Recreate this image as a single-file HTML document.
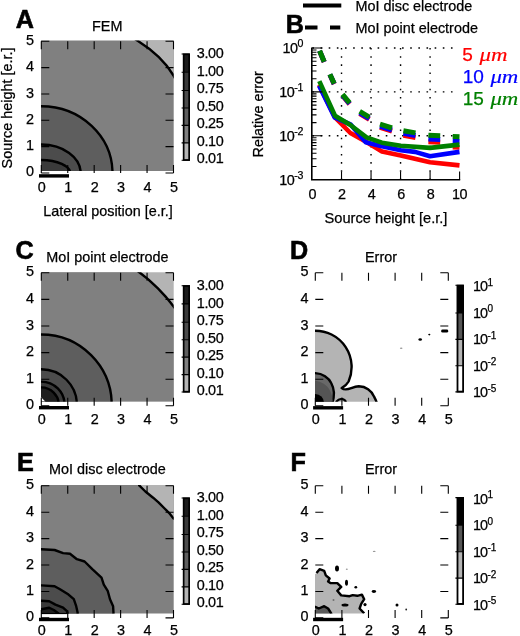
<!DOCTYPE html>
<html><head><meta charset="utf-8"><title>Figure</title>
<style>
html,body{margin:0;padding:0;background:#fff;overflow:hidden}
svg{display:block}
text{font-family:"Liberation Sans",sans-serif;font-size:14.4px;fill:#000;stroke:#000;stroke-width:0.25px}
.pl{font-weight:bold;font-size:25.2px;stroke:#000;stroke-width:0.6px}
</style></head><body>
<svg width="520" height="636" viewBox="0 0 520 636">
<rect width="520" height="636" fill="#fff"/>
<defs>
<clipPath id="ca"><rect x="41" y="40.6" width="132.7" height="130.3"/></clipPath>
<clipPath id="cc"><rect x="41" y="272.2" width="132.7" height="129.3"/></clipPath>
<clipPath id="ce"><rect x="41" y="485" width="132.7" height="128.5"/></clipPath>
<clipPath id="cd"><rect x="315" y="272.2" width="133" height="129.5"/></clipPath>
<clipPath id="cf"><rect x="315" y="485" width="133" height="128.4"/></clipPath>
</defs>

<g id="panelA">
<g clip-path="url(#ca)">
<rect x="41" y="40" width="133" height="132" fill="#808080"/>
<path d="M130.5 36.2L138 41Q162.8 56.6 173.7 76L177.2 82V36.2Z" fill="#b4b4b4" stroke="#000" stroke-width="2.4"/>
<ellipse cx="41.2" cy="173.3" rx="71.3" ry="67" fill="#5e5e5e" stroke="#000" stroke-width="2.4"/>
<ellipse cx="41.2" cy="173.3" rx="39.5" ry="28.8" fill="#4c4c4c" stroke="#000" stroke-width="2.4"/>
<ellipse cx="41.2" cy="173.3" rx="29" ry="13.3" fill="#3a3a3a" stroke="#000" stroke-width="2.4"/>
</g>
<path d="M41.30 41.30v8M41.30 173.00v-8M41.30 173.00h8M173.50 173.00h-8M67.74 41.30v8M67.74 173.00v-8M41.30 146.66h8M173.50 146.66h-8M94.18 41.30v8M94.18 173.00v-8M41.30 120.32h8M173.50 120.32h-8M120.62 41.30v8M120.62 173.00v-8M41.30 93.98h8M173.50 93.98h-8M147.06 41.30v8M147.06 173.00v-8M41.30 67.64h8M173.50 67.64h-8M173.50 41.30v8M173.50 173.00v-8M41.30 41.30h8M173.50 41.30h-8" stroke="#000" stroke-width="1.1" fill="none"/>
<rect x="39.00" y="174.20" width="30" height="3.4" fill="#000"/>
<text x="41.80" y="192.40" text-anchor="middle">0</text><text x="34.10" y="175.80" text-anchor="end">0</text><text x="68.24" y="192.40" text-anchor="middle">1</text><text x="34.10" y="150.26" text-anchor="end">1</text><text x="94.68" y="192.40" text-anchor="middle">2</text><text x="34.10" y="123.92" text-anchor="end">2</text><text x="121.12" y="192.40" text-anchor="middle">3</text><text x="34.10" y="97.58" text-anchor="end">3</text><text x="147.56" y="192.40" text-anchor="middle">4</text><text x="34.10" y="71.24" text-anchor="end">4</text><text x="174.00" y="192.40" text-anchor="middle">5</text><text x="34.10" y="44.90" text-anchor="end">5</text>
<text class="pl" x="15.8" y="27.5">A</text>
<text x="107.2" y="30.5" text-anchor="middle">FEM</text>
<text x="108" y="215.8" text-anchor="middle">Lateral position [e.r.]</text>
<text transform="translate(11.7,108) rotate(-90)" text-anchor="middle">Source height [e.r.]</text>
<rect x="183.1" y="54.00" width="6.6" height="18.30" fill="#1c1c1c"/><rect x="183.1" y="72.20" width="6.6" height="18.40" fill="#3a3a3a"/><rect x="183.1" y="90.50" width="6.6" height="17.60" fill="#4c4c4c"/><rect x="183.1" y="108.00" width="6.6" height="17.50" fill="#5e5e5e"/><rect x="183.1" y="125.40" width="6.6" height="17.60" fill="#808080"/><rect x="183.1" y="142.90" width="6.6" height="17.50" fill="#b4b4b4"/><rect x="183.65" y="54.3" width="5.5" height="105.70" fill="none" stroke="#000" stroke-width="1.7"/><text x="196.7" y="58.40" style="letter-spacing:-0.3px">3.00</text><text x="196.7" y="75.90" style="letter-spacing:-0.3px">1.00</text><text x="196.7" y="93.40" style="letter-spacing:-0.3px">0.75</text><text x="196.7" y="110.90" style="letter-spacing:-0.3px">0.50</text><text x="196.7" y="128.40" style="letter-spacing:-0.3px">0.25</text><text x="196.7" y="145.90" style="letter-spacing:-0.3px">0.10</text><text x="196.7" y="163.40" style="letter-spacing:-0.3px">0.01</text><path d="M181.6 54.00h8.1M181.6 72.20h8.1M181.6 90.50h8.1M181.6 108.00h8.1M181.6 125.40h8.1M181.6 142.90h8.1M181.6 160.30h8.1" stroke="#000" stroke-width="1.1"/>
</g>
<g id="panelC">
<g clip-path="url(#cc)">
<rect x="41" y="272" width="133" height="132" fill="#b4b4b4"/>
<circle cx="41.25" cy="405" r="165.0" fill="#808080" stroke="#000" stroke-width="2.4"/>
<circle cx="41.25" cy="405" r="70.5" fill="#5e5e5e" stroke="#000" stroke-width="2.4"/>
<circle cx="41.25" cy="405" r="35.7" fill="#4c4c4c" stroke="#000" stroke-width="2.4"/>
<circle cx="41.25" cy="405" r="23.4" fill="#3a3a3a" stroke="#000" stroke-width="2.4"/>
<circle cx="41.25" cy="405" r="17.6" fill="#1e1e1e" stroke="#000" stroke-width="2.4"/>
<path d="M41 397.3L45.6 401.8H41Z" fill="#fff"/>
</g>
<path d="M41.30 272.80v8M41.30 405.80v-8M41.30 405.80h8M173.50 405.80h-8M67.74 272.80v8M67.74 405.80v-8M41.30 379.20h8M173.50 379.20h-8M94.18 272.80v8M94.18 405.80v-8M41.30 352.60h8M173.50 352.60h-8M120.62 272.80v8M120.62 405.80v-8M41.30 326.00h8M173.50 326.00h-8M147.06 272.80v8M147.06 405.80v-8M41.30 299.40h8M173.50 299.40h-8M173.50 272.80v8M173.50 405.80v-8M41.30 272.80h8M173.50 272.80h-8" stroke="#000" stroke-width="1.1" fill="none"/>
<rect x="39.00" y="406.00" width="30" height="3.4" fill="#000"/>
<text x="41.80" y="423.80" text-anchor="middle">0</text><text x="34.10" y="408.60" text-anchor="end">0</text><text x="68.24" y="423.80" text-anchor="middle">1</text><text x="34.10" y="382.80" text-anchor="end">1</text><text x="94.68" y="423.80" text-anchor="middle">2</text><text x="34.10" y="356.20" text-anchor="end">2</text><text x="121.12" y="423.80" text-anchor="middle">3</text><text x="34.10" y="329.60" text-anchor="end">3</text><text x="147.56" y="423.80" text-anchor="middle">4</text><text x="34.10" y="303.00" text-anchor="end">4</text><text x="174.00" y="423.80" text-anchor="middle">5</text><text x="34.10" y="276.40" text-anchor="end">5</text>
<text class="pl" x="15.5" y="259.4">C</text>
<text x="107.4" y="261.5" text-anchor="middle">MoI point electrode</text>
<rect x="183.1" y="285.70" width="6.6" height="18.30" fill="#1c1c1c"/><rect x="183.1" y="303.90" width="6.6" height="18.40" fill="#3a3a3a"/><rect x="183.1" y="322.20" width="6.6" height="17.60" fill="#4c4c4c"/><rect x="183.1" y="339.70" width="6.6" height="17.50" fill="#5e5e5e"/><rect x="183.1" y="357.10" width="6.6" height="17.60" fill="#808080"/><rect x="183.1" y="374.60" width="6.6" height="17.50" fill="#b4b4b4"/><rect x="183.65" y="286.0" width="5.5" height="105.70" fill="none" stroke="#000" stroke-width="1.7"/><text x="196.7" y="290.10" style="letter-spacing:-0.3px">3.00</text><text x="196.7" y="307.60" style="letter-spacing:-0.3px">1.00</text><text x="196.7" y="325.10" style="letter-spacing:-0.3px">0.75</text><text x="196.7" y="342.60" style="letter-spacing:-0.3px">0.50</text><text x="196.7" y="360.10" style="letter-spacing:-0.3px">0.25</text><text x="196.7" y="377.60" style="letter-spacing:-0.3px">0.10</text><text x="196.7" y="395.10" style="letter-spacing:-0.3px">0.01</text><path d="M181.6 285.70h8.1M181.6 303.90h8.1M181.6 322.20h8.1M181.6 339.70h8.1M181.6 357.10h8.1M181.6 374.60h8.1M181.6 392.00h8.1" stroke="#000" stroke-width="1.1"/>
</g>
<g id="panelE">
<g clip-path="url(#ce)">
<rect x="41" y="485" width="133" height="132" fill="#808080"/>
<path d="M139.2 485.4L145.4 491.5L153.1 497.7L158.5 502.3L164.6 508.5L169.2 513.1L173.5 518.5L176 518.5V480H139.2Z" fill="#b4b4b4" stroke="#000" stroke-width="2.4" stroke-linejoin="round"/>
<path d="M38 549.2L41.5 549.2L54.6 550L63.1 553.1L70 553.8L76.9 559.2L84.6 561.5L92.3 569.2L101.5 577.7L103.8 584.6L107.7 590.8L110 599.2L113.1 606.2L113.5 613.1V622H38Z" fill="#5e5e5e" stroke="#000" stroke-width="2.4" stroke-linejoin="round"/>
<path d="M38 585.4L41.5 585.4L54.6 586.2L60 589.2L68.5 594.6L73.8 599.2L76.2 606.2L77.7 613.1V622H38Z" fill="#4c4c4c" stroke="#000" stroke-width="2.4" stroke-linejoin="round"/>
<path d="M38 600.8L41.5 600.8L49.2 601.2L55.4 604.6L63.1 607.7L66.9 611.1L67.7 613.5V622H38Z" fill="#3a3a3a" stroke="#000" stroke-width="2.4" stroke-linejoin="round"/>
<path d="M38 609.2L41.5 609.2L49.2 607.7L53.8 610L58.5 613.5V622H38Z" fill="#1e1e1e" stroke="#000" stroke-width="2.4" stroke-linejoin="round"/>
</g>
<path d="M41.3 613.5H67.7" stroke="#000" stroke-width="1.2"/>
<path d="M41.30 485.80v8M41.30 617.90v-8M41.30 617.90h8M173.50 617.90h-8M67.74 485.80v8M67.74 617.90v-8M41.30 591.48h8M173.50 591.48h-8M94.18 485.80v8M94.18 617.90v-8M41.30 565.06h8M173.50 565.06h-8M120.62 485.80v8M120.62 617.90v-8M41.30 538.64h8M173.50 538.64h-8M147.06 485.80v8M147.06 617.90v-8M41.30 512.22h8M173.50 512.22h-8M173.50 485.80v8M173.50 617.90v-8M41.30 485.80h8M173.50 485.80h-8" stroke="#000" stroke-width="1.1" fill="none"/>
<rect x="39.00" y="617.80" width="30" height="3.4" fill="#000"/>
<text x="41.80" y="635.30" text-anchor="middle">0</text><text x="34.10" y="620.70" text-anchor="end">0</text><text x="68.24" y="635.30" text-anchor="middle">1</text><text x="34.10" y="595.08" text-anchor="end">1</text><text x="94.68" y="635.30" text-anchor="middle">2</text><text x="34.10" y="568.66" text-anchor="end">2</text><text x="121.12" y="635.30" text-anchor="middle">3</text><text x="34.10" y="542.24" text-anchor="end">3</text><text x="147.56" y="635.30" text-anchor="middle">4</text><text x="34.10" y="515.82" text-anchor="end">4</text><text x="174.00" y="635.30" text-anchor="middle">5</text><text x="34.10" y="489.40" text-anchor="end">5</text>
<text class="pl" x="17" y="471.2">E</text>
<text x="107.4" y="474.2" text-anchor="middle">MoI disc electrode</text>
<rect x="183.1" y="498.00" width="6.6" height="18.30" fill="#1c1c1c"/><rect x="183.1" y="516.20" width="6.6" height="18.40" fill="#3a3a3a"/><rect x="183.1" y="534.50" width="6.6" height="17.60" fill="#4c4c4c"/><rect x="183.1" y="552.00" width="6.6" height="17.50" fill="#5e5e5e"/><rect x="183.1" y="569.40" width="6.6" height="17.60" fill="#808080"/><rect x="183.1" y="586.90" width="6.6" height="17.50" fill="#b4b4b4"/><rect x="183.65" y="498.3" width="5.5" height="105.70" fill="none" stroke="#000" stroke-width="1.7"/><text x="196.7" y="502.40" style="letter-spacing:-0.3px">3.00</text><text x="196.7" y="519.90" style="letter-spacing:-0.3px">1.00</text><text x="196.7" y="537.40" style="letter-spacing:-0.3px">0.75</text><text x="196.7" y="554.90" style="letter-spacing:-0.3px">0.50</text><text x="196.7" y="572.40" style="letter-spacing:-0.3px">0.25</text><text x="196.7" y="589.90" style="letter-spacing:-0.3px">0.10</text><text x="196.7" y="607.40" style="letter-spacing:-0.3px">0.01</text><path d="M181.6 498.00h8.1M181.6 516.20h8.1M181.6 534.50h8.1M181.6 552.00h8.1M181.6 569.40h8.1M181.6 586.90h8.1M181.6 604.30h8.1" stroke="#000" stroke-width="1.1"/>
</g>
<g id="panelD">
<g clip-path="url(#cd)">
<path d="M312 330.7H315.3A36.3 36.3 0 0 1 348.6 381.5C347.2 384 344.8 386.3 341.7 388.1C343.5 389.6 346.5 390 351.3 388.2C354 387.2 356 386.5 358.8 386.3C362.5 386.4 365.5 387.4 368.1 389.2C370.8 391 372.8 393.5 374.2 396.9C375.2 398.8 376 400.3 376.5 401.8V410H312Z" fill="#b4b4b4" stroke="#000" stroke-width="2.4" stroke-linejoin="round"/>
<path d="M310 373.1H315.3C319 373.3 322.3 374.4 325 376.2C327.8 378 329.9 380.3 331.2 383C332.8 386 333.7 389 333.9 392.3C334 396 333.5 399 332.7 401.8V412H310Z" fill="#686868" stroke="#000" stroke-width="2.4" stroke-linejoin="round"/>
<path d="M310 373.1H315.3C319 373.3 322.3 374.4 325 376.2C327.8 378 329.9 380.3 331.2 383C332.8 386 333.7 389 333.9 392.3C334 396 333.5 399 332.7 401.8V412H310Z" fill="#555555" transform="translate(-1.3,7.5)"/>
<circle cx="315.3" cy="402.5" r="8.6" fill="#000"/>
<path d="M335.8 402L338.5 399.8L341.9 398.8L344.5 400L346.2 402" fill="none" stroke="#000" stroke-width="2.2" stroke-linejoin="round"/>
</g>
<ellipse cx="401.2" cy="348.2" rx="1.3" ry="0.7" fill="#999"/>
<ellipse cx="420.2" cy="339.5" rx="1.8" ry="1.2" fill="#000"/>
<ellipse cx="429.3" cy="334.6" rx="1.1" ry="0.8" fill="#000"/>
<rect x="441.2" y="329.4" width="7" height="3.2" rx="1.4" fill="#000"/>
<path d="M315.30 272.80v8M315.30 405.80v-8M315.30 405.80h8M448.30 405.80h-8M341.90 272.80v8M341.90 405.80v-8M315.30 379.20h8M448.30 379.20h-8M368.50 272.80v8M368.50 405.80v-8M315.30 352.60h8M448.30 352.60h-8M395.10 272.80v8M395.10 405.80v-8M315.30 326.00h8M448.30 326.00h-8M421.70 272.80v8M421.70 405.80v-8M315.30 299.40h8M448.30 299.40h-8M448.30 272.80v8M448.30 405.80v-8M315.30 272.80h8M448.30 272.80h-8" stroke="#000" stroke-width="1.1" fill="none"/>
<rect x="313.10" y="406.10" width="30" height="3.4" fill="#000"/>
<text x="315.80" y="423.80" text-anchor="middle">0</text><text x="308.40" y="408.60" text-anchor="end">0</text><text x="342.40" y="423.80" text-anchor="middle">1</text><text x="308.40" y="382.80" text-anchor="end">1</text><text x="369.00" y="423.80" text-anchor="middle">2</text><text x="308.40" y="356.20" text-anchor="end">2</text><text x="395.60" y="423.80" text-anchor="middle">3</text><text x="308.40" y="329.60" text-anchor="end">3</text><text x="422.20" y="423.80" text-anchor="middle">4</text><text x="308.40" y="303.00" text-anchor="end">4</text><text x="448.80" y="423.80" text-anchor="middle">5</text><text x="308.40" y="276.40" text-anchor="end">5</text>
<text class="pl" x="290" y="259.4">D</text>
<text x="381" y="261.5" text-anchor="middle">Error</text>
<rect x="456.9" y="285.30" width="6.8" height="27.80" fill="#000000"/><rect x="456.9" y="313.00" width="6.8" height="26.50" fill="#555555"/><rect x="456.9" y="339.40" width="6.8" height="26.50" fill="#b4b4b4"/><rect x="456.9" y="365.80" width="6.8" height="26.20" fill="#ffffff"/><rect x="457.5" y="285.6" width="5.6" height="106.00" fill="none" stroke="#000" stroke-width="1.8"/><text x="472.9" y="291.20" style="letter-spacing:-0.9px">10<tspan style="font-size:10px;letter-spacing:-0.3px" dy="-5.4" dx="0.5">1</tspan></text><text x="472.9" y="317.70" style="letter-spacing:-0.9px">10<tspan style="font-size:10px;letter-spacing:-0.3px" dy="-5.4" dx="0.5">0</tspan></text><text x="472.9" y="344.20" style="letter-spacing:-0.9px">10<tspan style="font-size:10px;letter-spacing:-0.3px" dy="-5.4" dx="0.5">-1</tspan></text><text x="472.9" y="370.70" style="letter-spacing:-0.9px">10<tspan style="font-size:10px;letter-spacing:-0.3px" dy="-5.4" dx="0.5">-2</tspan></text><text x="472.9" y="397.20" style="letter-spacing:-0.9px">10<tspan style="font-size:10px;letter-spacing:-0.3px" dy="-5.4" dx="0.5">-5</tspan></text><path d="M455.4 285.30h8.3M455.4 313.00h8.3M455.4 339.40h8.3M455.4 365.80h8.3M455.4 391.90h8.3" stroke="#000" stroke-width="1.1"/>
</g>
<g id="panelF">
<g clip-path="url(#cf)">
<path d="M315 574.3L316.5 573L319.6 569.2L324.2 570.8L325.8 575.4L329.6 578.5L328.1 581.5L330.4 583.1L337.3 583.1L341.2 586.9L337.3 590.8L341.2 595.4L349.6 596.2L352.7 595.1L357.3 595.8L361.9 594.6L364.2 599.2L361.2 603.8L359.6 608.5L364.2 613.4V620H315Z" fill="#b4b4b4"/>
<path d="M316.5 573L319.6 569.2L324.2 570.8L325.8 575.4L329.6 578.5L328.1 581.5L330.4 583.1L337.3 583.1L341.2 586.9L337.3 590.8L341.2 595.4L349.6 596.2L352.7 595.1L357.3 595.8L361.9 594.6L364.2 599.2L361.2 603.8L359.6 608.5L364.2 613.4" fill="none" stroke="#000" stroke-width="2.4" stroke-linejoin="round"/>
<path d="M312 606.9H315.3L318.8 608.5L324.2 606.2L328.1 608.5L331.2 613.4V620H312Z" fill="#5a5a5a" stroke="#000" stroke-width="2.4" stroke-linejoin="round"/>
</g>
<ellipse cx="337" cy="568.4" rx="2" ry="3" fill="#000"/>
<ellipse cx="346.8" cy="569.2" rx="1" ry="0.7" fill="#999"/>
<ellipse cx="346.5" cy="582.8" rx="1.5" ry="3" fill="#000"/>
<ellipse cx="355.8" cy="587.2" rx="1.4" ry="1.3" fill="#000"/>
<ellipse cx="373.9" cy="591.5" rx="2.2" ry="1.4" fill="#000"/>
<ellipse cx="345" cy="604.9" rx="3.5" ry="1.5" fill="#000"/>
<ellipse cx="365" cy="604.6" rx="1.6" ry="1.7" fill="#000"/>
<ellipse cx="333.5" cy="600" rx="1" ry="0.7" fill="#555"/>
<ellipse cx="374.2" cy="551.4" rx="1.4" ry="0.7" fill="#999"/>
<ellipse cx="397" cy="605" rx="1.5" ry="1.5" fill="#000"/>
<ellipse cx="406.2" cy="609.5" rx="0.9" ry="0.9" fill="#222"/>
<path d="M315.30 485.80v8M315.30 617.90v-8M315.30 617.90h8M448.30 617.90h-8M341.90 485.80v8M341.90 617.90v-8M315.30 591.48h8M448.30 591.48h-8M368.50 485.80v8M368.50 617.90v-8M315.30 565.06h8M448.30 565.06h-8M395.10 485.80v8M395.10 617.90v-8M315.30 538.64h8M448.30 538.64h-8M421.70 485.80v8M421.70 617.90v-8M315.30 512.22h8M448.30 512.22h-8M448.30 485.80v8M448.30 617.90v-8M315.30 485.80h8M448.30 485.80h-8" stroke="#000" stroke-width="1.1" fill="none"/>
<rect x="313.10" y="617.80" width="30" height="3.4" fill="#000"/>
<text x="315.80" y="635.30" text-anchor="middle">0</text><text x="308.40" y="620.70" text-anchor="end">0</text><text x="342.40" y="635.30" text-anchor="middle">1</text><text x="308.40" y="595.08" text-anchor="end">1</text><text x="369.00" y="635.30" text-anchor="middle">2</text><text x="308.40" y="568.66" text-anchor="end">2</text><text x="395.60" y="635.30" text-anchor="middle">3</text><text x="308.40" y="542.24" text-anchor="end">3</text><text x="422.20" y="635.30" text-anchor="middle">4</text><text x="308.40" y="515.82" text-anchor="end">4</text><text x="448.80" y="635.30" text-anchor="middle">5</text><text x="308.40" y="489.40" text-anchor="end">5</text>
<text class="pl" x="290.5" y="471.2">F</text>
<text x="381" y="474.2" text-anchor="middle">Error</text>
<rect x="456.9" y="497.60" width="6.8" height="27.80" fill="#000000"/><rect x="456.9" y="525.30" width="6.8" height="26.50" fill="#555555"/><rect x="456.9" y="551.70" width="6.8" height="26.50" fill="#b4b4b4"/><rect x="456.9" y="578.10" width="6.8" height="26.20" fill="#ffffff"/><rect x="457.5" y="497.90000000000003" width="5.6" height="106.00" fill="none" stroke="#000" stroke-width="1.8"/><text x="472.9" y="503.50" style="letter-spacing:-0.9px">10<tspan style="font-size:10px;letter-spacing:-0.3px" dy="-5.4" dx="0.5">1</tspan></text><text x="472.9" y="530.00" style="letter-spacing:-0.9px">10<tspan style="font-size:10px;letter-spacing:-0.3px" dy="-5.4" dx="0.5">0</tspan></text><text x="472.9" y="556.50" style="letter-spacing:-0.9px">10<tspan style="font-size:10px;letter-spacing:-0.3px" dy="-5.4" dx="0.5">-1</tspan></text><text x="472.9" y="583.00" style="letter-spacing:-0.9px">10<tspan style="font-size:10px;letter-spacing:-0.3px" dy="-5.4" dx="0.5">-2</tspan></text><text x="472.9" y="609.50" style="letter-spacing:-0.9px">10<tspan style="font-size:10px;letter-spacing:-0.3px" dy="-5.4" dx="0.5">-5</tspan></text><path d="M455.4 497.60h8.3M455.4 525.30h8.3M455.4 551.70h8.3M455.4 578.10h8.3M455.4 604.20h8.3" stroke="#000" stroke-width="1.1"/>
</g>
<g id="panelB">
<path d="M341.52 48.0V179.7M371.04 48.0V179.7M400.56 48.0V179.7M430.08 48.0V179.7M312.4 48.00H456.6M312.4 91.90H456.6M312.4 135.80H456.6" stroke="#000" stroke-width="1.4" stroke-dasharray="1.6 6.55" fill="none"/>
<path d="M319.6 51.00L324.2 62.00M329.9 74.70L334.2 84.10M342.5 95.50L349.6 104.10M359.7 113.60L369.3 119.40M380 127.40L392 131.20M403.4 135.40L415.5 137.50M428.4 141.80L440.2 142.30M452.7 147.10L459.5 147.30" fill="none" stroke="#ff0000" stroke-width="5" />
<path d="M319.6 50.90L324.2 61.90M329.9 74.50L334.2 83.90M342.5 95.10L349.6 103.70M359.7 112.80L369.3 118.60M380 126.20L392 130.00M403.4 133.40L415.5 135.50M428.4 138.90L440.2 139.40M452.7 141.40L459.5 141.60" fill="none" stroke="#0000ff" stroke-width="5" />
<path d="M319.1 84.8L335 117.5L350.4 133L366.5 142L382 151.6L400.8 155.4L430 162.3L459.5 165.4" fill="none" stroke="#ff0000" stroke-width="4.6" stroke-linejoin="round" />
<path d="M319.1 85.8L334.6 117.3L350.4 124.3L365.8 142.2L381.9 146.3L400.8 150.2L415 151.9L430 156.2L459.5 151.9" fill="none" stroke="#0000ff" stroke-width="4.6" stroke-linejoin="round" />
<path d="M319.3 81.1L335 115.8L350.4 125L366.5 137.3L381.9 142.7L400.8 145.8L430 147.9L459.5 144.6" fill="none" stroke="#008000" stroke-width="4.6" stroke-linejoin="round" />
<path d="M319.6 50.70L324.2 61.70M329.9 74.20L334.2 83.60M342.5 94.30L349.6 102.90M359.7 111.40L369.3 117.20M380 124.20L392 128.00M403.4 130.80L415.5 132.90M428.4 135.30L440.2 135.80M452.7 136.60L459.5 136.80" fill="none" stroke="#008000" stroke-width="5" />
<path d="M311.8 47.5V179.7H460.20000000000005" fill="none" stroke="#000" stroke-width="1.6"/>
<path d="M341.52 179.7v-8.2M371.04 179.7v-8.2M400.56 179.7v-8.2M430.08 179.7v-8.2M459.60 179.7v-8.2M312.0 48.00h10.5M312.0 78.68h4.5M312.0 70.95h4.5M312.0 65.47h4.5M312.0 61.22h4.5M312.0 57.74h4.5M312.0 54.80h4.5M312.0 52.25h4.5M312.0 50.01h4.5M312.0 91.90h10.5M312.0 122.58h4.5M312.0 114.85h4.5M312.0 109.37h4.5M312.0 105.12h4.5M312.0 101.64h4.5M312.0 98.70h4.5M312.0 96.15h4.5M312.0 93.91h4.5M312.0 135.80h10.5M312.0 166.48h4.5M312.0 158.75h4.5M312.0 153.27h4.5M312.0 149.02h4.5M312.0 145.54h4.5M312.0 142.60h4.5M312.0 140.05h4.5M312.0 137.81h4.5" stroke="#000" stroke-width="1.1" fill="none"/>
<text x="312.60" y="198.8" text-anchor="middle">0</text>
<text x="342.12" y="198.8" text-anchor="middle">2</text>
<text x="371.64" y="198.8" text-anchor="middle">4</text>
<text x="401.16" y="198.8" text-anchor="middle">6</text>
<text x="430.68" y="198.8" text-anchor="middle">8</text>
<text x="459.40" y="198.8" text-anchor="middle" style="letter-spacing:-0.6px">10</text>
<text x="303.0" y="53.20" text-anchor="end" style="letter-spacing:-0.6px">10<tspan style="font-size:10.6px;letter-spacing:-0.3px" dy="-6.4">0</tspan></text>
<text x="303.0" y="97.10" text-anchor="end" style="letter-spacing:-0.6px">10<tspan style="font-size:10.6px;letter-spacing:-0.3px" dy="-6.4">-1</tspan></text>
<text x="303.0" y="141.00" text-anchor="end" style="letter-spacing:-0.6px">10<tspan style="font-size:10.6px;letter-spacing:-0.3px" dy="-6.4">-2</tspan></text>
<text x="303.0" y="184.90" text-anchor="end" style="letter-spacing:-0.6px">10<tspan style="font-size:10.6px;letter-spacing:-0.3px" dy="-6.4">-3</tspan></text>
<text x="386" y="223.2" text-anchor="middle" style="font-size:14.65px">Source height [e.r.]</text>
<text transform="translate(263.2,114.3) rotate(-90)" text-anchor="middle">Relative error</text>
<text class="pl" x="285.8" y="33">B</text>
<path d="M303 5.5H341.3" stroke="#000" stroke-width="4"/>
<path d="M305 27.5H317.5M330 27.5H340.3" stroke="#000" stroke-width="4"/>
<text x="355.5" y="10.6">MoI disc electrode</text>
<text x="355.5" y="32.5">MoI point electrode</text>
<text x="462.2" y="60.8" style="fill:#ff0000;stroke:#ff0000;font-size:19px">5</text>
<text transform="translate(479.6,60.8) scale(1.27,1)" style="fill:#ff0000;stroke:#ff0000;stroke-width:0.15px;font-family:'Liberation Serif',serif;font-style:italic;font-size:18px">μm</text>
<text x="462.7" y="83.1" style="fill:#0000ff;stroke:#0000ff;font-size:19px">10</text>
<text transform="translate(490.4,83.1) scale(1.27,1)" style="fill:#0000ff;stroke:#0000ff;stroke-width:0.15px;font-family:'Liberation Serif',serif;font-style:italic;font-size:18px">μm</text>
<text x="462.7" y="104.6" style="fill:#008000;stroke:#008000;font-size:19px">15</text>
<text transform="translate(490.4,104.6) scale(1.27,1)" style="fill:#008000;stroke:#008000;stroke-width:0.15px;font-family:'Liberation Serif',serif;font-style:italic;font-size:18px">μm</text>
</g>
</svg></body></html>
